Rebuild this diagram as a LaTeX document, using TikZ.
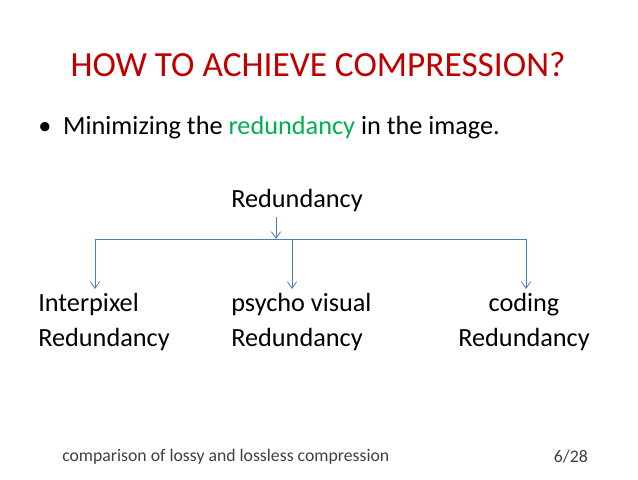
\documentclass[tikz,border=0pt]{standalone}
\usepackage{fontspec}
\setmainfont{Carlito}
\usetikzlibrary{arrows.meta}
\definecolor{tred}{RGB}{192,0,0}
\definecolor{tgreen}{RGB}{0,176,80}
\definecolor{lblue}{RGB}{74,126,187}
\begin{document}
\begin{tikzpicture}[x=0.75pt,y=-0.75pt,
  body/.style={font=\fontsize{19.7}{26}\selectfont, inner sep=0pt},
  conn/.style={draw=lblue, line width=0.6pt},
  arr/.style={conn, -{Straight Barb[length=5pt,width=7pt]}}]
\useasboundingbox (0,0) rectangle (638,479);
\node[font=\fontsize{26.5}{30}\selectfont, text=tred, inner sep=0pt] (title) at (318,65) {HOW TO ACHIEVE COMPRESSION?};
\node[body, anchor=west] (bullet) at (38,128) {\textbullet\ \ Minimizing the \textcolor{tgreen}{redundancy} in the image.};
\node[body, anchor=west] (red) at (231,200) {Redundancy};
\node[body, anchor=west, align=left] (a) at (38,322) {Interpixel\\Redundancy};
\node[body, anchor=west, align=left] (b) at (231,322) {psycho visual\\Redundancy};
\node[body, anchor=east, align=center] (c) at (590,322) {coding\\Redundancy};
\coordinate (top) at (276,217);
\coordinate (hub) at (276,239);
\coordinate (l) at (95,239);
\coordinate (r) at (526,239);
\coordinate (m) at (292,239);
\draw[arr] (top) -- (hub);
\draw[conn] (l) -- (r);
\draw[arr] (l) -- (95,289);
\draw[arr] (m) -- (292,289);
\draw[arr] (r) -- (526,289);
\node[font=\fontsize{13.3}{16}\selectfont, text=black!75, anchor=west, inner sep=0pt] (foot) at (62,457) {comparison of lossy and lossless compression};
\node[font=\fontsize{13.3}{16}\selectfont, text=black!75, anchor=east, inner sep=0pt] (pg) at (588,457) {6/28};
\end{tikzpicture}
\end{document}
